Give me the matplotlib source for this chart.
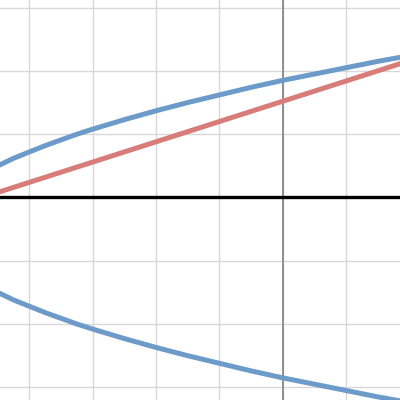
import matplotlib.pyplot as plt
from matplotlib.ticker import MultipleLocator

# sideways parabola, upper and lower branch
par_x = [-4.5, -4.25, -4.0, -3.75, -3.5, -3.25, -3.0, -2.5, -2.0, -1.5, -1.0, -0.5, 0.0, 0.5, 1.0, 1.5, 2.0]
par_upper = [0.50, 0.62, 0.72, 0.82, 0.91, 1.00, 1.08, 1.23, 1.37, 1.50, 1.62, 1.74, 1.85, 1.95, 2.05, 2.15, 2.24]
par_lower = [-1.50, -1.62, -1.72, -1.82, -1.91, -2.00, -2.08, -2.23, -2.37, -2.50, -2.62, -2.74, -2.85, -2.95, -3.05, -3.15, -3.24]

# straight red line
line_x = [-4.5, 2.0]
line_y = [0.08, 2.16]

blue = "#6c9bca"
red = "#d87c79"

fig = plt.figure(figsize=(4, 4), dpi=100)
ax = fig.add_axes([0, 0, 1, 1])

ax.set_xlim(-4.466, 1.853)
ax.set_ylim(-3.20, 3.12)

ax.xaxis.set_major_locator(MultipleLocator(1))
ax.yaxis.set_major_locator(MultipleLocator(1))
ax.grid(True, color="#d8d8d8", linewidth=1.0)
ax.set_axisbelow(True)
ax.tick_params(length=0, labelbottom=False, labelleft=False)
for s in ax.spines.values():
    s.set_visible(False)

ax.axvline(0, color="#8f8f8f", linewidth=1.4, zorder=1)
ax.axhline(0, color="black", linewidth=2.4, zorder=2)

ax.plot(line_x, line_y, color=red, linewidth=3.6, solid_capstyle="round", zorder=3)
ax.plot(par_x, par_upper, color=blue, linewidth=3.6, solid_capstyle="round", zorder=4)
ax.plot(par_x, par_lower, color=blue, linewidth=3.6, solid_capstyle="round", zorder=4)

plt.savefig("out.png", dpi=100)
